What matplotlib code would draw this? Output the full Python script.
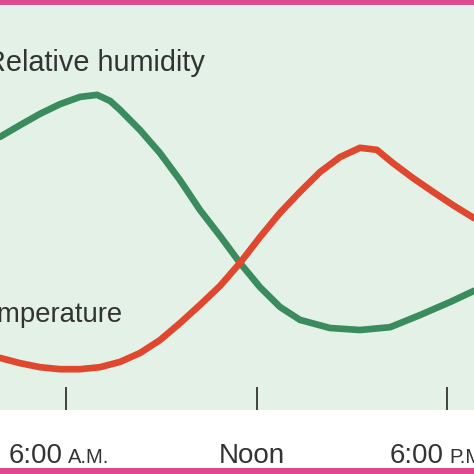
import matplotlib
matplotlib.use("Agg")
import matplotlib.pyplot as plt
from matplotlib.patches import Rectangle
from matplotlib.transforms import blended_transform_factory

# hours of the day and relative level (0-100)
hum_hours = [3.92, 4.55, 5.18, 5.81, 6.44, 6.98, 7.39, 7.70, 8.33, 8.96,
             9.59, 10.22, 10.85, 11.48, 12.11, 12.74, 13.37, 14.31, 15.26,
             16.21, 17.15, 18.09, 18.85]
humidity = [67.6, 70.5, 73.3, 75.7, 77.5, 78.0, 76.5, 74.3, 69.3, 63.6,
            56.9, 49.5, 43.1, 36.4, 30.4, 25.5, 22.3, 20.3, 19.8,
            20.5, 23.5, 26.7, 29.5]

temp_hours = [3.92, 4.55, 5.18, 5.81, 6.44, 7.07, 7.70, 8.33, 8.96, 9.59,
              10.22, 10.85, 11.48, 12.11, 12.74, 13.37, 14.00, 14.63, 15.26,
              15.79, 16.30, 16.93, 17.56, 18.19, 18.85]
temperature = [12.9, 11.6, 10.6, 10.1, 10.1, 10.6, 11.9, 14.1, 17.3, 21.5,
               26.0, 30.7, 36.4, 42.8, 48.8, 54.0, 58.9, 62.6, 64.9,
               64.4, 61.1, 57.4, 54.0, 50.7, 47.5]

tick_hours = [6, 12, 18]
tick_main = ["6:00", "Noon", "6:00"]
tick_suffix = ["A.M.", "", "P.M."]

GREEN = "#3a8b5d"
RED = "#e0472f"
PANEL = "#e3f1e6"
PINK = "#de4a8d"
TEXT = "#333333"

plt.rcParams["font.family"] = ["Liberation Sans", "DejaVu Sans"]

fig = plt.figure(figsize=(4.74, 4.74), dpi=100)
fig.patch.set_facecolor("white")
ax = fig.add_axes([0, 64 / 474, 1, 404 / 474])
ax.set_facecolor(PANEL)
for s in ax.spines.values():
    s.set_visible(False)

ax.plot(hum_hours, humidity, color=GREEN, lw=4.8, solid_capstyle="round",
        solid_joinstyle="round")
ax.plot(temp_hours, temperature, color=RED, lw=4.8, solid_capstyle="round",
        solid_joinstyle="round")

ax.set_xlim(3.921, 18.85)
ax.set_ylim(0, 100)
ax.set_yticks([])
ax.set_xticks(tick_hours)
ax.set_xticklabels([])
ax.tick_params(axis="x", direction="in", length=16.5, width=1.3, color=TEXT)

ax.text(3.45, 83.9, "Relative humidity", fontsize=20.8, color=TEXT,
        va="baseline", ha="left")
ax.text(2.92, 21.8, "Temperature", fontsize=19.8, color=TEXT,
        va="baseline", ha="left")

# tick labels, with the small-cap suffix as a separate smaller text
trans = blended_transform_factory(ax.transData, fig.transFigure)
for h, main, suf in zip(tick_hours, tick_main, tick_suffix):
    if suf:
        ax.text(h - 0.12, 11 / 474, main, transform=trans, fontsize=20,
                color=TEXT, ha="right", va="baseline", clip_on=False)
        ax.text(h + 0.07, 11 / 474, suf, transform=trans, fontsize=14.5,
                color=TEXT, ha="left", va="baseline", clip_on=False)
    else:
        ax.text(h - 0.15, 11 / 474, main, transform=trans, fontsize=20,
                color=TEXT, ha="center", va="baseline", clip_on=False)

# pink frame strips at top and bottom
fig.add_artist(Rectangle((0, 1 - 5 / 474), 1, 5 / 474, transform=fig.transFigure,
                         color=PINK, lw=0))
fig.add_artist(Rectangle((0, 0), 1, 6 / 474, transform=fig.transFigure,
                         color=PINK, lw=0))

fig.savefig("out.png", dpi=100)
